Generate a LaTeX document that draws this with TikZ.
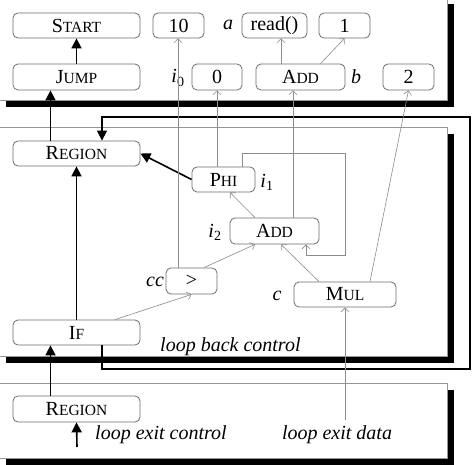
\documentclass[tikz,border=0pt]{standalone}
\usepackage{fontspec}
\setmainfont{Liberation Serif}
\usepackage{tikz}
\usetikzlibrary{arrows.meta}
\usetikzlibrary{calc}
\definecolor{framegray}{RGB}{150,150,150}
\definecolor{boxgray}{RGB}{110,110,110}
\definecolor{datagray}{RGB}{140,140,140}
\newcommand\smc[2]{#1{\fontsize{15.5}{16}\selectfont #2}}
\newcommand\idx[1]{{\upshape\textsubscript{#1}}}
\newcommand\panel[4]{
  \fill[black] (#1+7,#2+7) rectangle (#3+7,#4+7);
  \filldraw[fill=white, draw=framegray, line width=0.8pt] (#1,#2) rectangle (#3,#4);
}
\tikzset{
  op/.style={draw=boxgray, rounded corners=5pt, line width=0.8pt, inner sep=0pt, minimum height=25pt, font=\fontsize{20}{22}\selectfont},
  lbl/.style={font=\fontsize{20}{22}\selectfont\itshape, inner sep=0pt},
  ctrl/.style={line width=1.6pt, -{Triangle[length=10pt,width=10pt]}},
  data/.style={draw=datagray, line width=0.6pt, -{Straight Barb[length=4pt,width=8pt]}},
}

\begin{document}
\begin{tikzpicture}[x=1pt,y=-1pt]
\useasboundingbox (0,0) rectangle (474,465);
\panel{-1}{-3}{447}{100};
\panel{-1}{127}{447}{356};
\panel{-1}{383}{447}{458};

% top block
\node[op, minimum width=127pt] (start) at (76.5,25.5) {\smc{S}{TART}};
\node[op, minimum width=51pt] (ten) at (178.5,25.5) {10};
\node[lbl] (la) at (228,25) {a};
\node[op, minimum width=65pt] (read) at (274.5,25.5) {read()};
\node[op, minimum width=51pt] (one) at (344.5,25.5) {1};
\node[op, minimum width=127pt, minimum height=26pt] (jump) at (76.5,77) {\smc{J}{UMP}};
\node[lbl] (li0) at (178,78) {i\idx{0}};
\node[op, minimum width=50pt, minimum height=26pt] (zero) at (217,77) {0};
\node[op, minimum width=89pt, minimum height=26pt] (addb) at (300.5,77) {\smc{A}{DD}};
\node[lbl] (lb) at (356,77) {b};
\node[op, minimum width=51pt, minimum height=26pt] (two) at (408.5,77) {2};

% loop block
\node[op, minimum width=127pt] (regA) at (76.5,153.5) {\smc{R}{EGION}};
\node[op, minimum width=63pt] (phi) at (223.5,179.5) {\smc{P}{HI}};
\node[lbl] (li1) at (267,182) {i\idx{1}};
\node[op, minimum width=89pt, minimum height=26pt] (addi) at (274.5,231) {\smc{A}{DD}};
\node[lbl] (li2) at (215,232) {i\idx{2}};
\node[op, minimum width=51pt, minimum height=26pt] (gt) at (191.5,281) {>};
\node[lbl] (lcc) at (155,282) {cc};
\node[op, minimum width=102pt] (mul) at (345,294.5) {\smc{M}{UL}};
\node[lbl] (lc) at (277,296) {c};
\node[op, minimum width=127pt] (ifn) at (76.5,332.5) {\smc{I}{F}};
\node[lbl, anchor=west] (lback) at (160,347) {loop back control};

% exit block
\node[op, minimum width=127pt, minimum height=26pt] (regB) at (76.5,409) {\smc{R}{EGION}};
\node[lbl, anchor=west] (lexc) at (95,435) {loop exit control};
\node[lbl] (lexd) at (337,435) {loop exit data};
\coordinate (exc) at (77,447);
\coordinate (exd) at (345,420);

% control edges
\draw[ctrl] (jump.north) -- (start.south);
\draw[ctrl] ([xshift=-26pt]regA.north) -- ([xshift=-26pt]jump.south);
\draw[ctrl] (ifn.north) -- (regA.south);
\draw[ctrl] ([xshift=-26pt]regB.north) -- ([xshift=-26pt]ifn.south);
\draw[ctrl] (exc) -- (regB.south);
\draw[ctrl] (phi.west) -- (regA.east);
\coordinate (lbR) at (470,369);
\coordinate (lbT) at (470,117);
\draw[line width=1.5pt, -{Triangle[length=10pt,width=10pt]}] ([xshift=25.5pt]ifn.south) |- (lbR) -- (lbT) -| ([xshift=25.5pt]regA.north);

% data edges
\draw[data] ([xshift=-19.5pt]addb.north) -- ([xshift=-19.5pt]addb.north |- read.south);
\draw[data] ([xshift=20pt]addb.north) -- (one.south);
\draw[data] ([xshift=-13.5pt]gt.north) -- ([xshift=-13.5pt]gt.north |- ten.south);
\draw[data] ([xshift=-6.5pt]phi.north) -- ([xshift=-6.5pt]phi.north |- zero.south);
\draw[data] ([xshift=18.5pt]addi.north) -- ([xshift=18.5pt]addi.north |- addb.south);
\draw[data] ([xshift=25pt]mul.north) -- (two.south);
\draw[data] ([xshift=-19.5pt]addi.north) -- ([xshift=6.5pt]phi.south);
\coordinate (phA) at (345,153);
\coordinate (phB) at (345,255);
\draw[data] ([xshift=18.5pt]phi.north) |- (phA) -- (phB) -| ([xshift=31.5pt]addi.south);
\draw[data] ([xshift=-26pt]mul.north) -- ([xshift=6.5pt]addi.south);
\draw[data] ([xshift=12.5pt]gt.north) -- ([xshift=-19.5pt]addi.south);
\draw[data] ([xshift=38.5pt]ifn.north) -- (gt.south);
\draw[data] (exd) -- (mul.south);
\end{tikzpicture}
\end{document}
